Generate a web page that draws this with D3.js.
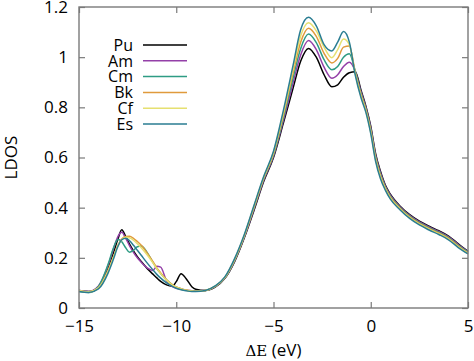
<!DOCTYPE html>
<html>
<head>
<meta charset="utf-8">
<script src="https://cdn.jsdelivr.net/npm/d3@7"></script>
<style>
  body { margin: 0; background: #fff; }
  svg text { font-family: "Open Sans", "Noto Sans", sans-serif; }
</style>
</head>
<body>
<div id="ldos"></div>
<script>
// energy grid (eV)
var energy = [-15, -14.5, -14, -13.5, -13.25, -13, -12.8, -12.6, -12.4, -12.2,
  -12, -11.8, -11.5, -11.2, -11, -10.8, -10.5, -10.2, -10, -9.75,
  -9.5, -9.2, -9, -8.5, -8, -7.5, -7, -6.5, -6, -5.5,
  -5, -4.5, -4, -3.6, -3.2, -2.8, -2.4, -2, -1.7, -1.4,
  -1.1, -0.8, -0.5, -0.25, 0, 0.25, 0.5, 0.75, 1, 1.5,
  2, 2.5, 3, 3.5, 4, 4.5, 5];

var pu = [0.070, 0.066, 0.085, 0.160, 0.215, 0.275, 0.312, 0.285, 0.255, 0.228,
  0.205, 0.185, 0.158, 0.135, 0.120, 0.106, 0.092, 0.087, 0.105, 0.137,
  0.118, 0.085, 0.075, 0.070, 0.083, 0.118, 0.185, 0.280, 0.390, 0.505,
  0.600, 0.735, 0.875, 0.985, 1.035, 1.000, 0.930, 0.882, 0.890, 0.920,
  0.938, 0.942, 0.868, 0.805, 0.725, 0.615, 0.545, 0.490, 0.455, 0.407,
  0.372, 0.346, 0.326, 0.308, 0.287, 0.256, 0.226];
var am = [0.070, 0.066, 0.088, 0.170, 0.230, 0.285, 0.302, 0.278, 0.248, 0.222,
  0.200, 0.182, 0.160, 0.150, 0.166, 0.163, 0.108, 0.085, 0.079, 0.075,
  0.071, 0.069, 0.068, 0.070, 0.084, 0.119, 0.188, 0.283, 0.395, 0.510,
  0.605, 0.745, 0.895, 1.010, 1.066, 1.030, 0.960, 0.916, 0.930, 0.963,
  0.980, 0.945, 0.862, 0.800, 0.719, 0.609, 0.539, 0.486, 0.451, 0.404,
  0.369, 0.343, 0.323, 0.305, 0.284, 0.253, 0.224];
var cm = [0.066, 0.062, 0.086, 0.175, 0.235, 0.273, 0.264, 0.240, 0.222, 0.230,
  0.244, 0.247, 0.222, 0.182, 0.157, 0.137, 0.112, 0.092, 0.083, 0.076,
  0.071, 0.068, 0.067, 0.070, 0.085, 0.120, 0.190, 0.286, 0.400, 0.515,
  0.610, 0.755, 0.915, 1.035, 1.092, 1.058, 0.990, 0.950, 0.963, 1.000,
  1.014, 0.945, 0.856, 0.795, 0.713, 0.603, 0.533, 0.482, 0.447, 0.401,
  0.366, 0.340, 0.320, 0.302, 0.281, 0.250, 0.222];
var bk = [0.068, 0.064, 0.080, 0.150, 0.200, 0.250, 0.275, 0.285, 0.286, 0.278,
  0.265, 0.250, 0.220, 0.185, 0.160, 0.140, 0.113, 0.093, 0.084, 0.077,
  0.072, 0.068, 0.067, 0.070, 0.086, 0.121, 0.192, 0.288, 0.403, 0.518,
  0.615, 0.765, 0.935, 1.060, 1.115, 1.083, 1.015, 0.977, 0.995, 1.040,
  1.045, 0.940, 0.850, 0.790, 0.707, 0.597, 0.527, 0.478, 0.443, 0.398,
  0.363, 0.337, 0.317, 0.299, 0.278, 0.247, 0.220];
var cf = [0.070, 0.065, 0.080, 0.148, 0.198, 0.248, 0.272, 0.282, 0.280, 0.270,
  0.256, 0.240, 0.212, 0.180, 0.157, 0.137, 0.111, 0.091, 0.083, 0.076,
  0.071, 0.068, 0.067, 0.070, 0.087, 0.122, 0.194, 0.290, 0.406, 0.521,
  0.620, 0.775, 0.950, 1.085, 1.137, 1.105, 1.040, 0.998, 1.030, 1.072,
  1.050, 0.935, 0.844, 0.785, 0.701, 0.591, 0.521, 0.474, 0.439, 0.395,
  0.360, 0.334, 0.314, 0.296, 0.275, 0.244, 0.218];
var es = [0.066, 0.062, 0.076, 0.140, 0.190, 0.245, 0.272, 0.278, 0.268, 0.250,
  0.230, 0.210, 0.180, 0.152, 0.134, 0.119, 0.100, 0.086, 0.079, 0.073,
  0.069, 0.066, 0.066, 0.070, 0.088, 0.124, 0.197, 0.293, 0.410, 0.525,
  0.625, 0.785, 0.965, 1.110, 1.159, 1.125, 1.050, 1.025, 1.060, 1.102,
  1.060, 0.930, 0.838, 0.780, 0.695, 0.585, 0.515, 0.470, 0.435, 0.392,
  0.357, 0.331, 0.311, 0.293, 0.272, 0.241, 0.216];

var names = ["Pu", "Am", "Cm", "Bk", "Cf", "Es"];
var values = [pu, am, cm, bk, cf, es];
var colors = ["#000000", "#9440a8", "#2e9c84", "#e09a3c", "#e6e070", "#2a7d92"];
var xTicks = [-15, -10, -5, 0, 5];
var yTicks = [0, 0.2, 0.4, 0.6, 0.8, 1, 1.2];

var W = 474, H = 361,
    margin = {top: 7, right: 6, bottom: 53, left: 79},
    width = W - margin.left - margin.right,
    height = H - margin.top - margin.bottom;

var x = d3.scaleLinear().domain([-15, 5]).range([0, width]),
    y = d3.scaleLinear().domain([0, 1.2]).range([height, 0]);

var svg = d3.select("#ldos").append("svg")
    .attr("width", W)
    .attr("height", H);
var g = svg.append("g")
    .attr("transform", "translate(" + margin.left + "," + margin.top + ")");

// inward ticks on all four sides, gnuplot style
var axisColor = "#7a7a7a";
function styleAxis(sel, hideText) {
  sel.select(".domain").remove();
  sel.selectAll(".tick line").attr("stroke", axisColor).attr("stroke-width", 1.2);
  sel.selectAll(".tick text")
    .attr("fill", "#000")
    .style("font-size", "17px");
  if (hideText) sel.selectAll(".tick text").remove();
}

g.append("g")
  .attr("transform", "translate(0," + height + ")")
  .call(d3.axisBottom(x).tickValues(xTicks).tickSize(-6).tickPadding(12)
    .tickFormat(function(d) { return d < 0 ? "\u2212" + Math.abs(d) : d; }))
  .call(styleAxis, false);
g.append("g")
  .call(d3.axisTop(x).tickValues(xTicks).tickSize(-6))
  .call(styleAxis, true);
g.append("g")
  .call(d3.axisLeft(y).tickValues(yTicks).tickSize(-6).tickPadding(11)
    .tickFormat(d3.format("")))
  .call(styleAxis, false);
g.append("g")
  .attr("transform", "translate(" + width + ",0)")
  .call(d3.axisRight(y).tickValues(yTicks).tickSize(-6))
  .call(styleAxis, true);

var line = d3.line()
  .x(function(d, i) { return x(energy[i]); })
  .y(function(d) { return y(d); })
  .curve(d3.curveMonotoneX);

g.append("g")
  .selectAll("path")
  .data(values)
  .enter().append("path")
    .attr("d", line)
    .attr("fill", "none")
    .attr("stroke", function(d, i) { return colors[i]; })
    .attr("stroke-width", 1.5);

// frame
g.append("rect")
  .attr("width", width)
  .attr("height", height)
  .attr("fill", "none")
  .attr("stroke", axisColor)
  .attr("stroke-width", 1.4);

// legend
var legend = g.append("g").attr("transform", "translate(54,38)");
var rows = legend.selectAll("g")
  .data(names)
  .enter().append("g")
    .attr("transform", function(d, i) { return "translate(0," + (i * 15.8) + ")"; });
rows.append("text")
  .attr("x", 0)
  .attr("dy", "0.36em")
  .attr("text-anchor", "end")
  .style("font-size", "16px")
  .text(function(d) { return d; });
rows.append("line")
  .attr("x1", 10)
  .attr("x2", 54)
  .attr("stroke", function(d, i) { return colors[i]; })
  .attr("stroke-width", 1.5);

// axis titles
svg.append("text")
  .attr("transform", "translate(17," + (margin.top + height / 2) + ") rotate(-90)")
  .attr("text-anchor", "middle")
  .style("font-size", "17px")
  .text("LDOS");

var xt = svg.append("text")
  .attr("x", margin.left + width / 2)
  .attr("y", 356)
  .attr("text-anchor", "middle")
  .style("font-size", "17px");
xt.append("tspan").style("font-family", "'DejaVu Serif', serif").style("font-size", "15px").text("\u0394E");
xt.append("tspan").text(" (eV)");
</script>
</body>
</html>
